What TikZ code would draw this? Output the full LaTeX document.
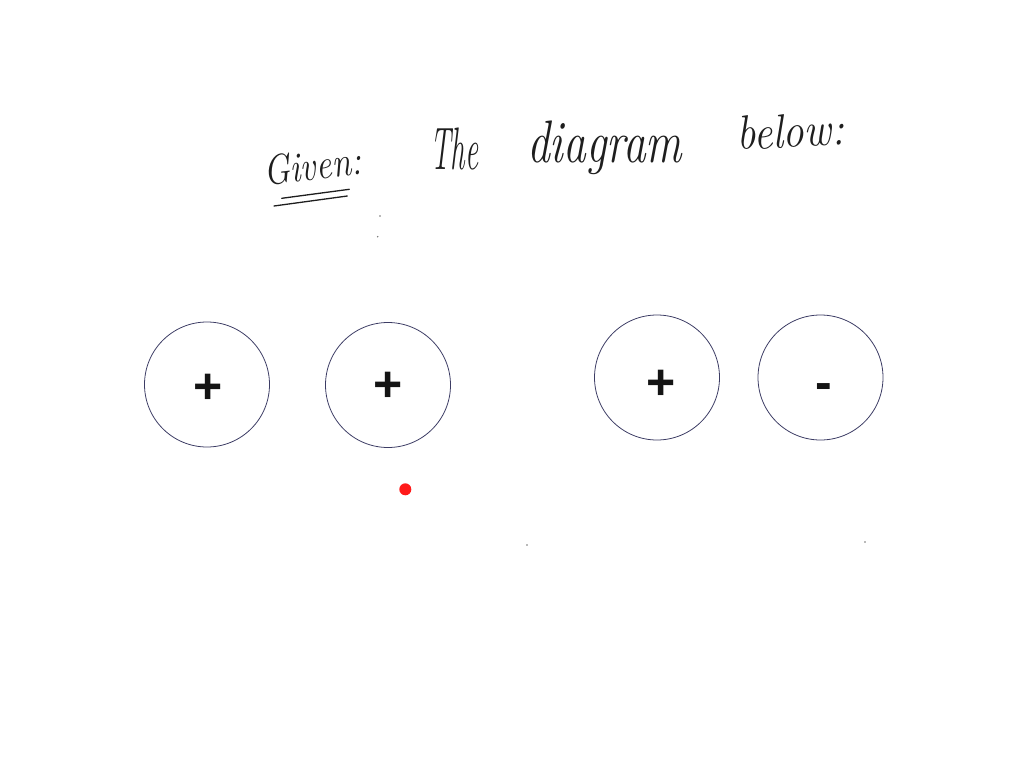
\documentclass[tikz,border=0pt]{standalone}
\usepackage{fontspec}
\usepackage{graphicx}
\newfontfamily\signfont{Liberation Sans}
\definecolor{ring}{HTML}{3C3C64}
\definecolor{ink}{HTML}{141414}
\definecolor{pen}{HTML}{1E1E1E}
\definecolor{dotred}{HTML}{FF1A1A}
\tikzset{
  charge/.style={circle,draw=ring,line width=0.8pt,minimum size=125pt,inner sep=0pt},
  sign/.style={font=\signfont\bfseries\fontsize{50}{50}\selectfont,text=ink,inner sep=0pt,anchor=base},
  hand/.style={text=pen,inner sep=0pt,anchor=base west},
  speck/.style={fill=black!55,circle,inner sep=0pt,minimum size=1.6pt},
  underl/.style={draw=pen,line width=1.3pt,line cap=round}
}
\newcommand{\handword}[3]{\resizebox{#1pt}{\height}{\fontsize{#2}{#2}\selectfont\itshape #3}}
\begin{document}
\begin{tikzpicture}[x=1pt,y=-1pt]
\useasboundingbox (0,0) rectangle (1024,768);
% handwritten heading
\node[hand,rotate=7] (given) at (265,186) {\handword{98}{42}{Given:}};
\coordinate (u1a) at (281.7,198.3);
\coordinate (u1b) at (349.3,189.3);
\coordinate (u2a) at (274,206);
\coordinate (u2b) at (347.3,196);
\draw[underl] (u1a) -- (u1b);
\draw[underl] (u2a) -- (u2b);
\node[hand] (the) at (430,169) {\handword{48}{60}{The}};
\node[hand] (diagram) at (527,162) {\handword{155}{60}{diagram}};
\node[hand,rotate=3] (below) at (737,150) {\handword{108}{48}{below:}};
% charges
\node[charge] (c1) at (207,384.5) {};
\node[charge] (c2) at (388,385) {};
\node[charge] (c3) at (657,377.5) {};
\node[charge] (c4) at (820.5,377.5) {};
\node[sign] (s1) at (208.5,403) {+};
\node[sign] (s2) at (388.3,401) {+};
\node[sign] (s3) at (661,399.5) {+};
\node[sign] (s4) at (824,399) {-};
% red test point
\node[circle,fill=dotred,inner sep=0pt,minimum size=12pt] (p) at (405.3,489.3) {};
% stray specks
\node[speck] (k1) at (380,216) {};
\node[speck] (k2) at (377.7,236.7) {};
\node[speck] (k3) at (527,545) {};
\node[speck] (k4) at (865,542) {};
\end{tikzpicture}
\end{document}
